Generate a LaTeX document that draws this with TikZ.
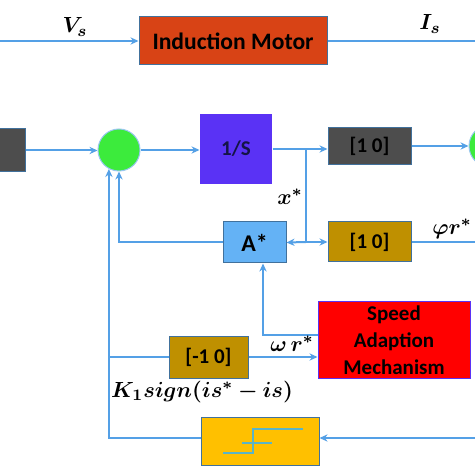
\documentclass[tikz,border=0pt]{standalone}
\usepackage{fontspec}
\setmainfont{Carlito}
\usepackage{bm}
\usetikzlibrary{positioning,arrows.meta}
\definecolor{linec}{RGB}{84,160,230}
\definecolor{edgec}{RGB}{65,113,156}
\definecolor{motorc}{RGB}{216,67,21}
\definecolor{darkg}{RGB}{77,77,77}
\definecolor{sumgreen}{RGB}{60,235,60}
\definecolor{integc}{RGB}{90,50,245}
\definecolor{navyc}{RGB}{20,20,70}
\definecolor{goldc}{RGB}{191,144,0}
\definecolor{ablue}{RGB}{100,178,245}
\definecolor{redc}{RGB}{255,0,0}
\definecolor{yellowc}{RGB}{255,192,0}
\definecolor{signc}{RGB}{90,180,200}
\begin{document}
\begin{tikzpicture}[x=0.5pt,y=-0.5pt,>={Stealth[length=4pt,width=3.6pt]},
  wire/.style={draw=linec,line width=1pt},
  blk/.style={draw=edgec,line width=0.5pt,inner sep=0pt,font=\bfseries\fontsize{10.5}{13.5}\selectfont},
  sumc/.style={circle,fill=sumgreen,draw=linec!60,line width=0.5pt,minimum size=21pt,inner sep=0pt},
  lbl/.style={font=\fontsize{11}{13}\selectfont}]
  %Frame
  \fill[white] (0,0) rectangle (474,474);
  \useasboundingbox (0,0) rectangle (474,474);

  %Induction motor
  \node[blk,fill=motorc,minimum width=94pt,minimum height=24pt,font=\bfseries\fontsize{11.8}{14}\selectfont] (motor) at (233,41) {Induction Motor};
  \coordinate (vs) at (-5,41);
  \coordinate (is) at (480,41);
  \draw[wire,->] (vs) -- (motor);
  \draw[wire] (motor) -- (is);
  \node[lbl] (vslbl) at (75,27) {$\bm{V_s}$};
  \node[lbl] (islbl) at (430,24) {$\bm{I_s}$};

  %Observer
  \node[blk,fill=darkg,minimum width=17.5pt,minimum height=21.5pt] (src) at (7.5,150.5) {};
  \node[sumc] (sum1) at (119,150) {};
  \node[blk,fill=integc,draw=none,minimum width=36pt,minimum height=35pt,text=navyc] (integ) at (236,149) {1/S};
  \node[blk,fill=darkg,minimum width=41.5pt,minimum height=18.5pt] (selA) at (369.5,146) {[1 0]};
  \node[sumc] (sum2) at (490,146) {};
  \node[blk,fill=goldc,minimum width=41.5pt,minimum height=20pt] (selB) at (369.5,242) {[1 0]};
  \node[blk,fill=ablue,minimum width=31.5pt,minimum height=20.5pt,font=\bfseries\fontsize{12}{14}\selectfont] (amat) at (254.5,242.5) {A*};
  \coordinate (xs) at (306,149);
  \coordinate (xb) at (306,242);
  \coordinate (phiout) at (480,242);
  \draw[wire,->] (src.east) -- (src.east -| sum1.west);
  \draw[wire,->] (sum1.east) -- (sum1.east -| integ.west);
  \draw[wire] (integ.east |- xs) -- (xs) -- (xb);
  \draw[wire,->] (xs) -- (xs -| selA.west);
  \draw[wire,->] (xb) -- (amat.east);
  \draw[wire,->] (xb) -- (selB.west);
  \draw[wire,->] (selA.east) -- (sum2.west);
  \draw[wire] (selB.east) -- (phiout);
  \draw[wire,->] (amat.west) -| (sum1.south);
  \node[lbl] (xlbl) at (290,197) {$\bm{x^*}$};
  \node[lbl] (philbl) at (452,229) {$\bm{\varphi r^*}$};

  %Speed adaption
  \node[blk,fill=redc,draw=integc,minimum width=76pt,minimum height=38pt,align=center] (speed) at (394,340) {Speed\\Adaption\\Mechanism};
  \node[blk,fill=goldc,minimum width=39.5pt,minimum height=21pt] (gain) at (208.5,357) {[-1 0]};
  \draw[wire,->] (gain.east) -- (gain.east -| speed.west);
  \draw[wire,->] ([yshift=2.5pt]speed.west) -| ([xshift=4.25pt]amat.south);
  \node[lbl] (wlbl) at (292,344) {$\bm{\omega\, r^*}$};

  %Sign block
  \node[blk,fill=yellowc,minimum width=59pt,minimum height=24pt] (sgn) at (260,441) {};
  \coordinate (isin) at (480,438);
  \draw[signc,line width=1.2pt] (223,453) -- (253,453) -- (253,429) -- (303,429);
  \draw[signc,line width=1.2pt] (242,443) -- (272,443);
  \draw[wire,->] (isin) -- (isin -| sgn.east);
  \draw[wire,->] (isin -| sgn.west) -| (sum1.242);
  \draw[wire] (sum1.242 |- gain.west) -- (gain.west);
  \node[lbl] (klbl) at (202,392) {$\bm{K_1 sign(is^* - is)}$};
\end{tikzpicture}
\end{document}
